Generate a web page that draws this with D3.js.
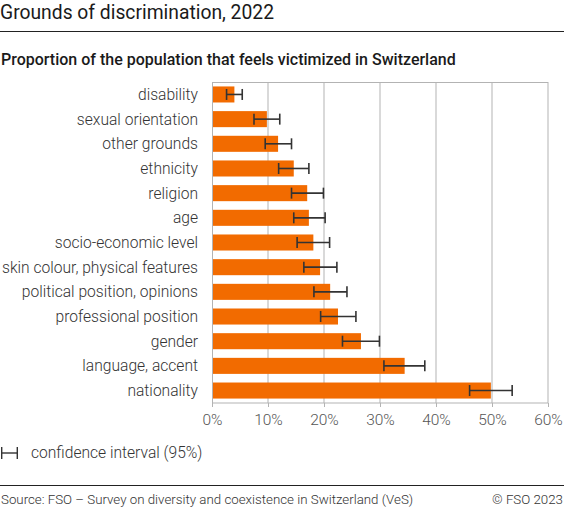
<!DOCTYPE html>
<html>
<head>
<meta charset="utf-8">
<script src="https://cdn.jsdelivr.net/npm/d3@7"></script>
<style>
  body { margin: 0; background: #fff; font-family: Roboto, "Noto Sans", sans-serif; }
  svg text { font-family: Roboto, "Noto Sans", sans-serif; }
</style>
</head>
<body>
<svg id="chart" width="564" height="509"></svg>
<script>
const categories = ["disability", "sexual orientation", "other grounds", "ethnicity", "religion", "age",
  "socio-economic level", "skin colour, physical features", "political position, opinions",
  "professional position", "gender", "language, accent", "nationality"];
const values = [4.0, 9.8, 11.8, 14.6, 17.0, 17.3, 18.1, 19.3, 21.1, 22.5, 26.6, 34.4, 49.8];
const ciLow  = [2.6, 7.5, 9.5, 11.9, 14.2, 14.6, 15.2, 16.4, 18.2, 19.4, 23.3, 30.7, 46.0];
const ciHigh = [5.4, 12.1, 14.2, 17.3, 19.9, 20.2, 21.0, 22.3, 24.1, 25.7, 29.9, 38.0, 53.6];
const xTicks = [0, 10, 20, 30, 40, 50, 60];

const W = 564, H = 509;
const MARGIN = { top: 82, right: 16, bottom: 106, left: 212 };
const innerW = W - MARGIN.left - MARGIN.right;
const innerH = H - MARGIN.top - MARGIN.bottom;

const svg = d3.select("#chart");

// Header
svg.append("text").attr("x", 0).attr("y", 19)
  .attr("font-size", 19.3).attr("fill", "#1a1a1a").text("Grounds of discrimination, 2022");
svg.append("line").attr("x1", 0).attr("x2", W).attr("y1", 31.5).attr("y2", 31.5)
  .attr("stroke", "#222").attr("stroke-width", 1);
svg.append("text").attr("x", 1).attr("y", 65)
  .attr("font-size", 16).attr("font-weight", 500).attr("fill", "#1a1a1a")
  .text("Proportion of the population that feels victimized in Switzerland");

const g = svg.append("g").attr("transform", `translate(${MARGIN.left},${MARGIN.top})`);

const x = d3.scaleLinear([0, 60], [0, innerW]);
const y = d3.scaleBand(categories, [0, innerH]).paddingInner(0.35).paddingOuter(0.18);

// Grid
g.append("g")
  .selectAll("line").data(xTicks.slice(1)).join("line")
  .attr("x1", d => x(d)).attr("x2", d => x(d))
  .attr("y1", 0).attr("y2", innerH)
  .attr("stroke", "#b3b3b3").attr("stroke-width", 1);
g.append("line").attr("x1", 0).attr("x2", innerW).attr("y1", 0.5).attr("y2", 0.5)
  .attr("stroke", "#b3b3b3");

// X axis
const xAxis = g.append("g").attr("transform", `translate(0,${innerH})`)
  .call(d3.axisBottom(x).tickValues(xTicks).tickFormat(d => d + "%").tickSize(4).tickPadding(7));
xAxis.select(".domain").attr("stroke", "#b3b3b3").attr("d", `M0,0H${innerW}`);
xAxis.selectAll(".tick line").attr("stroke", "#b3b3b3");
xAxis.selectAll(".tick text").attr("font-size", 15.5).attr("fill", "#555").attr("font-weight", 300)
  .attr("font-family", "Roboto, sans-serif");

// Y axis line
g.append("line").attr("x1", 0.5).attr("x2", 0.5).attr("y1", 0).attr("y2", innerH)
  .attr("stroke", "#b3b3b3");

// Category labels
g.append("g").selectAll("text").data(categories).join("text")
  .attr("x", -14).attr("y", d => y(d) + y.bandwidth() / 2)
  .attr("dy", "0.35em").attr("text-anchor", "end")
  .attr("font-size", 15.6).attr("font-weight", 300).attr("fill", "#333")
  .text(d => d);

// Bars
g.append("g").selectAll("rect").data(categories).join("rect")
  .attr("x", 1).attr("y", (d) => y(d))
  .attr("width", (d, i) => x(values[i]) - 1).attr("height", y.bandwidth())
  .attr("fill", "#f26b00");

// Error bars
const eb = g.append("g").attr("stroke", "#333").attr("stroke-width", 1.6);
categories.forEach((c, i) => {
  const cy = y(c) + y.bandwidth() / 2;
  eb.append("line").attr("x1", x(ciLow[i])).attr("x2", x(ciHigh[i])).attr("y1", cy).attr("y2", cy);
  eb.append("line").attr("x1", x(ciLow[i])).attr("x2", x(ciLow[i])).attr("y1", cy - 5.5).attr("y2", cy + 5.5);
  eb.append("line").attr("x1", x(ciHigh[i])).attr("x2", x(ciHigh[i])).attr("y1", cy - 5.5).attr("y2", cy + 5.5);
});

// Legend
const lg = svg.append("g").attr("transform", "translate(1,453)").attr("stroke", "#333").attr("stroke-width", 1.4);
lg.append("line").attr("x1", 0).attr("x2", 17).attr("y1", 0).attr("y2", 0);
lg.append("line").attr("x1", 0.7).attr("x2", 0.7).attr("y1", -6).attr("y2", 6);
lg.append("line").attr("x1", 16.3).attr("x2", 16.3).attr("y1", -6).attr("y2", 6);
svg.append("text").attr("x", 31).attr("y", 453).attr("dy", "0.35em")
  .attr("font-size", 15.6).attr("font-weight", 300).attr("fill", "#333")
  .text("confidence interval (95%)");

// Footer
svg.append("line").attr("x1", 0).attr("x2", W).attr("y1", 485.5).attr("y2", 485.5)
  .attr("stroke", "#222").attr("stroke-width", 1);
svg.append("text").attr("x", 1).attr("y", 504)
  .attr("font-size", 13.3).attr("font-weight", 300).attr("fill", "#333")
  .text("Source: FSO – Survey on diversity and coexistence in Switzerland (VeS)");
svg.append("text").attr("x", W - 1).attr("y", 504).attr("text-anchor", "end")
  .attr("font-size", 13.3).attr("font-weight", 300).attr("fill", "#333")
  .text("© FSO 2023");
</script>
</body>
</html>
